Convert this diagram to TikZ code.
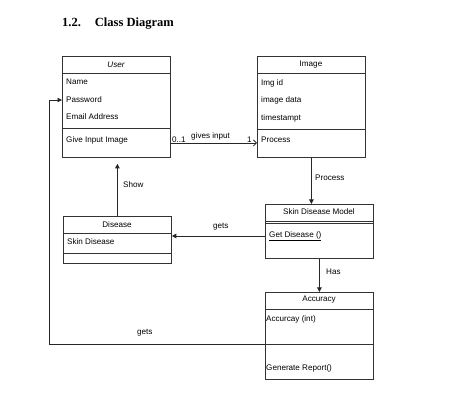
\documentclass[tikz,border=0pt]{standalone}
\usepackage{fontspec}
\setmainfont{Liberation Serif}
\newfontfamily\ssf{Liberation Sans}
\usetikzlibrary{arrows.meta}
\begin{document}
\begin{tikzpicture}[x=1pt,y=-1pt,
  box/.style={draw=black!80, line width=0.8pt, anchor=north west, inner sep=0pt},
  sep/.style={draw=black!80, line width=0.8pt},
  txt/.style={font=\ssf\fontsize{8.1}{9.5}\selectfont, inner sep=0pt, anchor=west},
  hdr/.style={font=\ssf\fontsize{8.1}{9.5}\selectfont, inner sep=0pt},
  conn/.style={draw=black!85, line width=0.8pt},
  arr/.style={conn, -{Triangle[length=4.5pt,width=4.5pt]}},
  ]
\useasboundingbox (0,0) rectangle (474,411);
\node[font=\bfseries\fontsize{12.5}{15}\selectfont, anchor=west, inner sep=0pt] (title) at (62,24) {1.2.\hspace{14pt}Class Diagram};

% boxes
\node[box, minimum width=108pt, minimum height=101pt] (user) at (62,56) {};
\node[box, minimum width=108pt, minimum height=101pt] (image) at (257,56) {};
\node[box, minimum width=108pt, minimum height=54pt] (sdm) at (265,204) {};
\node[box, minimum width=108pt, minimum height=47pt] (dis) at (63,216) {};
\node[box, minimum width=108pt, minimum height=87pt] (acc) at (265,292) {};

% compartments
\draw[sep] ([yshift=-17pt]user.north west) -- ([yshift=-17pt]user.north east);
\draw[sep] ([yshift=-72pt]user.north west) -- ([yshift=-72pt]user.north east);
\draw[sep] ([yshift=-17pt]image.north west) -- ([yshift=-17pt]image.north east);
\draw[sep] ([yshift=-73pt]image.north west) -- ([yshift=-73pt]image.north east);
\draw[sep] ([yshift=-17pt]sdm.north west) -- ([yshift=-17pt]sdm.north east);
\draw[sep] ([yshift=-19pt]sdm.north west) -- ([yshift=-19pt]sdm.north east);
\draw[sep] ([yshift=-17.5pt]dis.north west) -- ([yshift=-17.5pt]dis.north east);
\draw[sep] ([yshift=-37.5pt]dis.north west) -- ([yshift=-37.5pt]dis.north east);
\draw[sep] ([yshift=-17pt]acc.north west) -- ([yshift=-17pt]acc.north east);
\draw[sep] ([yshift=-52pt]acc.north west) -- ([yshift=-52pt]acc.north east);

% texts
\node[hdr] (userh) at (116,65) {\itshape User};
\node[txt] (u1) at (66,82) {Name};
\node[txt] (u2) at (66,100) {Password};
\node[txt] (u3) at (66,117) {Email Address};
\node[txt] (u4) at (66,140) {Give Input Image};

\node[hdr] (imageh) at (311,65) {Image};
\node[txt] (i1) at (261,83) {Img id};
\node[txt] (i2) at (261,100) {image data};
\node[txt] (i3) at (261,118) {timestampt};
\node[txt] (i4) at (261,140) {Process};

\node[hdr] (sdmh) at (319,212) {Skin Disease Model};
\node[txt] (s1) at (269,236) {\underline{Get Disease ()}};

\node[hdr] (dish) at (117,225) {Disease};
\node[txt] (d1) at (67,242) {Skin Disease};

\node[hdr] (acch) at (319,300) {Accuracy};
\node[txt] (a1) at (266,319) {Accurcay (int)};
\node[txt] (a2) at (266,368) {Generate Report()};

% connectors
\coordinate (gy) at (0,143);
\draw[conn, -{Straight Barb[length=3pt,width=6pt]}] (user.east |- gy) -- (image.west |- gy);
\node[txt] (m01) at (172,139.5) {0..1};
\node[txt] (lgi) at (191,136.5) {gives input};
\node[txt] (m1) at (247,139.5) {1};

\draw[arr] (image.south) -- (image.south |- sdm.north);
\node[txt] (lpr) at (315,178) {Process};

\draw[arr, shorten >=6pt] (dis.north) -- (dis.north |- user.south);
\node[txt] (lsh) at (123,185) {Show};

\coordinate (gt) at (0,236);
\draw[arr] (sdm.west |- gt) -- (dis.east |- gt);
\node[txt] (lgt) at (213,227) {gets};

\draw[arr] (sdm.south) -- (acc.north);
\node[txt] (lhas) at (326,272) {Has};

\coordinate (c1) at (49,344);
\coordinate (c2) at (49,100);
\draw[arr] (acc.west |- c1) -- (c1) -- (c2) -- (user.west |- c2);
\node[txt] (lg2) at (137,333) {gets};
\end{tikzpicture}
\end{document}
